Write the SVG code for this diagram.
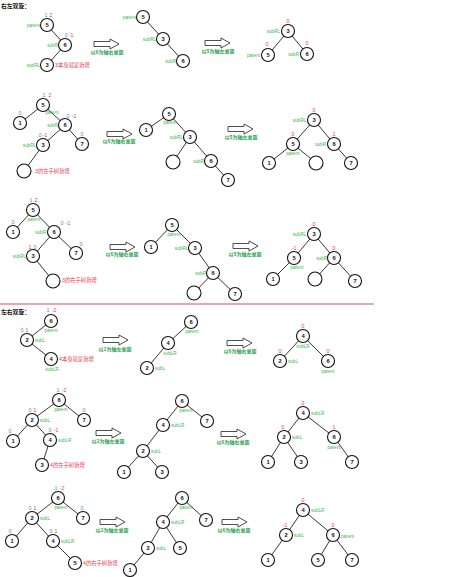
<svg xmlns="http://www.w3.org/2000/svg" xmlns:xlink="http://www.w3.org/1999/xlink" width="474" height="577" viewBox="0 0 474 577">
<defs>
<style>
.bg{fill:#fff}
.n circle{fill:#fff;stroke:#111;stroke-width:1.1}
.n text{font-family:"Liberation Sans",Arial,sans-serif;font-size:5.8px;font-weight:bold;fill:#111;text-anchor:middle}
.e line{stroke:#222;stroke-width:0.9}
.g{font-family:"Liberation Sans",Arial,sans-serif;font-size:4.6px;fill:#3ab54a}
.r{font-family:"Liberation Sans","Noto Sans CJK SC",sans-serif;font-size:5.3px;fill:#e8374a}
.b{font-family:"Liberation Sans",Arial,sans-serif;font-size:5.3px;fill:#3b8fd8;text-anchor:middle}
.rd{font-family:"Liberation Sans",Arial,sans-serif;font-size:5.3px;fill:#e8374a;text-anchor:middle}
.cap{font-family:"Noto Sans CJK SC",sans-serif;font-size:5px;fill:#22a04a;font-weight:bold;text-anchor:middle}
.h{font-family:"Noto Sans CJK SC",sans-serif;font-size:5.8px;font-weight:bold;fill:#111}
.m{text-anchor:middle}
.en{text-anchor:end}
</style>
<path id="arr" d="M0,-2.5 H16 V-5 L25,0 L16,5 V2.5 H0 Z" fill="#fff" stroke="#222" stroke-width="0.8"/>
</defs>
<rect class="bg" width="474" height="577"/>

<text class="h" x="1" y="8">右左双旋：</text>
<line x1="0" y1="304" x2="374" y2="304" stroke="#d9534f" stroke-width="1.2"/>
<text class="h" x="1" y="314">左右双旋：</text>

<g id="connectors" class="e">
<line x1="47" y1="25" x2="65" y2="45"/><line x1="65" y1="45" x2="47" y2="65"/>
<line x1="143" y1="17" x2="163" y2="39"/><line x1="163" y1="39" x2="183" y2="61"/>
<line x1="288" y1="31" x2="268" y2="55"/><line x1="288" y1="31" x2="307" y2="54"/>
<line x1="43" y1="105" x2="20" y2="123"/><line x1="43" y1="105" x2="65" y2="125"/><line x1="65" y1="125" x2="43" y2="145"/><line x1="65" y1="125" x2="82" y2="144"/><line x1="43" y1="145" x2="24" y2="171"/>
<line x1="169" y1="114" x2="146" y2="130"/><line x1="169" y1="114" x2="190" y2="137"/><line x1="190" y1="137" x2="173" y2="162"/><line x1="190" y1="137" x2="211" y2="161"/><line x1="211" y1="161" x2="228" y2="180"/>
<line x1="314" y1="120" x2="293" y2="144"/><line x1="314" y1="120" x2="334" y2="144"/><line x1="293" y1="144" x2="269" y2="163"/><line x1="293" y1="144" x2="316" y2="163"/><line x1="334" y1="144" x2="351" y2="163"/>
<line x1="33" y1="210" x2="13" y2="232"/><line x1="33" y1="210" x2="54" y2="232"/><line x1="54" y1="232" x2="33" y2="256"/><line x1="54" y1="232" x2="76" y2="253"/><line x1="33" y1="256" x2="53" y2="281"/>
<line x1="172" y1="225" x2="151" y2="247"/><line x1="172" y1="225" x2="195" y2="248"/><line x1="195" y1="248" x2="213" y2="273"/><line x1="213" y1="273" x2="194" y2="293"/><line x1="213" y1="273" x2="235" y2="294"/>
<line x1="314" y1="234" x2="294" y2="258"/><line x1="314" y1="234" x2="334" y2="258"/><line x1="294" y1="258" x2="273" y2="279"/><line x1="334" y1="258" x2="315" y2="279"/><line x1="334" y1="258" x2="355" y2="281"/>
<line x1="51" y1="321" x2="27" y2="340"/><line x1="27" y1="340" x2="51" y2="359"/>
<line x1="191" y1="322" x2="168" y2="343"/><line x1="168" y1="343" x2="147" y2="368"/>
<line x1="303" y1="336" x2="280" y2="361"/><line x1="303" y1="336" x2="328" y2="361"/>
<line x1="59" y1="400" x2="32" y2="420"/><line x1="59" y1="400" x2="84" y2="420"/><line x1="32" y1="420" x2="13" y2="441"/><line x1="32" y1="420" x2="50" y2="440"/><line x1="50" y1="440" x2="42" y2="465"/>
<line x1="182" y1="401" x2="163" y2="425"/><line x1="182" y1="401" x2="207" y2="421"/><line x1="163" y1="425" x2="143" y2="451"/><line x1="143" y1="451" x2="124" y2="472"/><line x1="143" y1="451" x2="162" y2="472"/>
<line x1="303" y1="413" x2="284" y2="437"/><line x1="303" y1="413" x2="334" y2="437"/><line x1="284" y1="437" x2="268" y2="462"/><line x1="284" y1="437" x2="301" y2="462"/><line x1="334" y1="437" x2="352" y2="462"/>
<line x1="58" y1="498" x2="32" y2="518"/><line x1="58" y1="498" x2="83" y2="518"/><line x1="32" y1="518" x2="12" y2="541"/><line x1="32" y1="518" x2="53" y2="541"/><line x1="53" y1="541" x2="75" y2="563"/>
<line x1="182" y1="498" x2="163" y2="522"/><line x1="182" y1="498" x2="206" y2="520"/><line x1="163" y1="522" x2="148" y2="548"/><line x1="163" y1="522" x2="180" y2="548"/><line x1="148" y1="548" x2="130" y2="570"/>
<line x1="303" y1="510" x2="286" y2="535"/><line x1="303" y1="510" x2="333" y2="535"/><line x1="286" y1="535" x2="268" y2="560"/><line x1="333" y1="535" x2="318" y2="560"/><line x1="333" y1="535" x2="352" y2="560"/>
</g>

<g id="arrows">
<use href="#arr" x="94" y="44"/><text class="cap" x="107" y="54">以6为轴右单旋</text>
<use href="#arr" x="205" y="43"/><text class="cap" x="218" y="53">以5为轴左单旋</text>
<use href="#arr" x="107" y="134"/><text class="cap" x="119" y="143">以6为轴右单旋</text>
<use href="#arr" x="228" y="129"/><text class="cap" x="241" y="139">以5为轴左单旋</text>
<use href="#arr" x="110" y="247"/><text class="cap" x="122" y="256">以6为轴右单旋</text>
<use href="#arr" x="233" y="246"/><text class="cap" x="245" y="256">以5为轴左单旋</text>
<use href="#arr" x="103" y="340"/><text class="cap" x="115" y="351">以2为轴左单旋</text>
<use href="#arr" x="227" y="343"/><text class="cap" x="240" y="353">以6为轴右单旋</text>
<use href="#arr" x="96" y="433"/><text class="cap" x="108" y="443">以2为轴左单旋</text>
<use href="#arr" x="221" y="434"/><text class="cap" x="233" y="444">以6为轴右单旋</text>
<use href="#arr" x="100" y="522"/><text class="cap" x="112" y="532">以2为轴左单旋</text>
<use href="#arr" x="222" y="522"/><text class="cap" x="234" y="532">以6为轴右单旋</text>
</g>

<g id="r1a5" class="n"><circle cx="47" cy="25" r="6.5"/><text x="47" y="27">5</text></g>
<g id="r1a6" class="n"><circle cx="65" cy="45" r="6.5"/><text x="65" y="47">6</text></g>
<g id="r1a3" class="n"><circle cx="47" cy="65" r="6.5"/><text x="47" y="67">3</text></g>
<text class="g en" x="40" y="27">parent</text>
<text class="g en" x="58" y="47">subR</text>
<text class="g en" x="40" y="67">subRL</text>
<text class="b" x="46" y="17">1</text><text class="rd" x="51" y="17">2</text>
<text class="b" x="66" y="37">0</text><text class="rd" x="71" y="37">-1</text>
<text class="r" x="55" y="67">3本身就是新增</text>

<g id="r1b5" class="n"><circle cx="143" cy="17" r="6.5"/><text x="143" y="19">5</text></g>
<g id="r1b3" class="n"><circle cx="163" cy="39" r="6.5"/><text x="163" y="41">3</text></g>
<g id="r1b6" class="n"><circle cx="183" cy="61" r="6.5"/><text x="183" y="63">6</text></g>
<text class="g en" x="136" y="19">parent</text>
<text class="g en" x="156" y="41">subRL</text>
<text class="g en" x="176" y="63">subR</text>

<g id="r1c3" class="n"><circle cx="288" cy="31" r="6.5"/><text x="288" y="33">3</text></g>
<g id="r1c5" class="n"><circle cx="268" cy="55" r="6.5"/><text x="268" y="57">5</text></g>
<g id="r1c6" class="n"><circle cx="307" cy="54" r="6.5"/><text x="307" y="56">6</text></g>
<text class="rd" x="288" y="23">0</text><text class="rd" x="267" y="46">0</text><text class="rd" x="307" y="45">0</text>
<text class="g en" x="280" y="33">subRL</text>
<text class="g en" x="260" y="57">parent</text>
<text class="g en" x="299" y="56">subR</text>

<g id="r2a5" class="n"><circle cx="43" cy="105" r="6.5"/><text x="43" y="107">5</text></g>
<g id="r2a1" class="n"><circle cx="20" cy="123" r="6.5"/><text x="20" y="125">1</text></g>
<g id="r2a6" class="n"><circle cx="65" cy="125" r="6.5"/><text x="65" y="127">6</text></g>
<g id="r2a7" class="n"><circle cx="82" cy="144" r="6.5"/><text x="82" y="146">7</text></g>
<g id="r2a3" class="n"><circle cx="43" cy="145" r="6.5"/><text x="43" y="147">3</text></g>
<g id="r2anew" class="n"><circle cx="24" cy="171" r="7"/></g>
<text class="b" x="44" y="97">1</text><text class="rd" x="50" y="97">2</text>
<text class="b" x="20" y="115">0</text>
<text class="b" x="68" y="118">0</text><text class="rd" x="74" y="118">-1</text>
<text class="b" x="82" y="136">0</text>
<text class="b" x="40" y="137">0</text><text class="rd" x="45" y="137">-1</text>
<text class="g m" x="52" y="114">parent</text>
<text class="g en" x="58" y="127">subR</text>
<text class="g en" x="36" y="147">subRL</text>
<text class="r" x="35" y="173">3的左子树新增</text>

<g id="r2b5" class="n"><circle cx="169" cy="114" r="6.5"/><text x="169" y="116">5</text></g>
<g id="r2b1" class="n"><circle cx="146" cy="130" r="6.5"/><text x="146" y="132">1</text></g>
<g id="r2b3" class="n"><circle cx="190" cy="137" r="6.5"/><text x="190" y="139">3</text></g>
<g id="r2bnew" class="n"><circle cx="173" cy="162" r="7"/></g>
<g id="r2b6" class="n"><circle cx="211" cy="161" r="6.5"/><text x="211" y="163">6</text></g>
<g id="r2b7" class="n"><circle cx="228" cy="180" r="6.5"/><text x="228" y="182">7</text></g>
<text class="g m" x="170" y="124">parent</text>
<text class="g en" x="183" y="139">subRL</text>
<text class="g en" x="204" y="163">subR</text>

<g id="r2c3" class="n"><circle cx="314" cy="120" r="6.5"/><text x="314" y="122">3</text></g>
<g id="r2c5" class="n"><circle cx="293" cy="144" r="6.5"/><text x="293" y="146">5</text></g>
<g id="r2c6" class="n"><circle cx="334" cy="144" r="6.5"/><text x="334" y="146">6</text></g>
<g id="r2c1" class="n"><circle cx="269" cy="163" r="6.5"/><text x="269" y="165">1</text></g>
<g id="r2cnew" class="n"><circle cx="316" cy="163" r="7"/></g>
<g id="r2c7" class="n"><circle cx="351" cy="163" r="6.5"/><text x="351" y="165">7</text></g>
<text class="rd" x="314" y="112">0</text><text class="rd" x="293" y="136">0</text><text class="rd" x="334" y="136">1</text>
<text class="g en" x="306" y="122">subRL</text>
<text class="g m" x="293" y="155">parent</text>
<text class="g en" x="326" y="146">subR</text>

<g id="r3a5" class="n"><circle cx="33" cy="210" r="6.5"/><text x="33" y="212">5</text></g>
<g id="r3a1" class="n"><circle cx="13" cy="232" r="6.5"/><text x="13" y="234">1</text></g>
<g id="r3a6" class="n"><circle cx="54" cy="232" r="6.5"/><text x="54" y="234">6</text></g>
<g id="r3a7" class="n"><circle cx="76" cy="253" r="6.5"/><text x="76" y="255">7</text></g>
<g id="r3a3" class="n"><circle cx="33" cy="256" r="6.5"/><text x="33" y="258">3</text></g>
<g id="r3anew" class="n"><circle cx="53" cy="281" r="7"/></g>
<text class="b" x="31" y="202">1</text><text class="rd" x="36" y="202">2</text>
<text class="b" x="13" y="224">0</text>
<text class="b" x="62" y="225">0</text><text class="rd" x="68" y="225">-1</text>
<text class="b" x="81" y="246">0</text>
<text class="rd" x="30" y="249">1</text><text class="b" x="35" y="249">0</text>
<text class="g m" x="34" y="221">parent</text>
<text class="g en" x="46" y="234">subR</text>
<text class="g en" x="26" y="258">subRL</text>
<text class="r" x="62" y="282">3的右子树新增</text>

<g id="r3b5" class="n"><circle cx="172" cy="225" r="6.5"/><text x="172" y="227">5</text></g>
<g id="r3b1" class="n"><circle cx="151" cy="247" r="6.5"/><text x="151" y="249">1</text></g>
<g id="r3b3" class="n"><circle cx="195" cy="248" r="6.5"/><text x="195" y="250">3</text></g>
<g id="r3b6" class="n"><circle cx="213" cy="273" r="6.5"/><text x="213" y="275">6</text></g>
<g id="r3bnew" class="n"><circle cx="194" cy="293" r="7"/></g>
<g id="r3b7" class="n"><circle cx="235" cy="294" r="6.5"/><text x="235" y="296">7</text></g>
<text class="g m" x="174" y="236">parent</text>
<text class="g en" x="188" y="250">subRL</text>
<text class="g en" x="206" y="275">subR</text>

<g id="r3c3" class="n"><circle cx="314" cy="234" r="6.5"/><text x="314" y="236">3</text></g>
<g id="r3c5" class="n"><circle cx="294" cy="258" r="6.5"/><text x="294" y="260">5</text></g>
<g id="r3c6" class="n"><circle cx="334" cy="258" r="6.5"/><text x="334" y="260">6</text></g>
<g id="r3c1" class="n"><circle cx="273" cy="279" r="6.5"/><text x="273" y="281">1</text></g>
<g id="r3cnew" class="n"><circle cx="315" cy="279" r="7"/></g>
<g id="r3c7" class="n"><circle cx="355" cy="281" r="6.5"/><text x="355" y="283">7</text></g>
<text class="rd" x="314" y="226">0</text><text class="rd" x="294" y="250">-1</text><text class="rd" x="334" y="250">0</text>
<text class="g en" x="306" y="236">subRL</text>
<text class="g m" x="297" y="269">parent</text>
<text class="g en" x="327" y="260">subR</text>

<g id="r4a6" class="n"><circle cx="51" cy="321" r="6.5"/><text x="51" y="323">6</text></g>
<g id="r4a2" class="n"><circle cx="27" cy="340" r="6.5"/><text x="27" y="342">2</text></g>
<g id="r4a4" class="n"><circle cx="51" cy="359" r="6.5"/><text x="51" y="361">4</text></g>
<text class="b" x="48" y="312">1</text><text class="rd" x="54" y="312">-2</text>
<text class="b" x="22" y="332">0</text><text class="rd" x="27" y="332">1</text>
<text class="g m" x="51" y="332">parent</text>
<text class="g" x="35" y="342">subL</text>
<text class="g m" x="52" y="371">subLR</text>
<text class="r" x="59" y="361">4本身就是新增</text>

<g id="r4b6" class="n"><circle cx="191" cy="322" r="6.5"/><text x="191" y="324">6</text></g>
<g id="r4b4" class="n"><circle cx="168" cy="343" r="6.5"/><text x="168" y="345">4</text></g>
<g id="r4b2" class="n"><circle cx="147" cy="368" r="6.5"/><text x="147" y="370">2</text></g>
<text class="g m" x="192" y="333">parent</text>
<text class="g m" x="170" y="355">subLR</text>
<text class="g" x="155" y="370">subL</text>

<g id="r4c4" class="n"><circle cx="303" cy="336" r="6.5"/><text x="303" y="338">4</text></g>
<g id="r4c2" class="n"><circle cx="280" cy="361" r="6.5"/><text x="280" y="363">2</text></g>
<g id="r4c6" class="n"><circle cx="328" cy="361" r="6.5"/><text x="328" y="363">6</text></g>
<text class="rd" x="303" y="328">0</text><text class="rd" x="280" y="353">0</text><text class="rd" x="328" y="353">0</text>
<text class="g m" x="303" y="348">subLR</text>
<text class="g" x="288" y="363">subL</text>
<text class="g m" x="328" y="373">parent</text>

<g id="r5a6" class="n"><circle cx="59" cy="400" r="6.5"/><text x="59" y="402">6</text></g>
<g id="r5a2" class="n"><circle cx="32" cy="420" r="6.5"/><text x="32" y="422">2</text></g>
<g id="r5a7" class="n"><circle cx="84" cy="420" r="6.5"/><text x="84" y="422">7</text></g>
<g id="r5a1" class="n"><circle cx="13" cy="441" r="6.5"/><text x="13" y="443">1</text></g>
<g id="r5a4" class="n"><circle cx="50" cy="440" r="6.5"/><text x="50" y="442">4</text></g>
<g id="r5a3" class="n"><circle cx="42" cy="465" r="6.5"/><text x="42" y="467">3</text></g>
<text class="b" x="58" y="392">1</text><text class="rd" x="64" y="392">-2</text>
<text class="b" x="30" y="412">0</text><text class="rd" x="35" y="412">1</text>
<text class="b" x="84" y="412">0</text>
<text class="b" x="10" y="433">0</text>
<text class="b" x="50" y="432">0</text><text class="rd" x="56" y="432">-1</text>
<text class="g m" x="61" y="411">parent</text>
<text class="g" x="40" y="422">subL</text>
<text class="g" x="58" y="442">subLR</text>
<text class="r" x="50" y="467">4的左子树新增</text>

<g id="r5b6" class="n"><circle cx="182" cy="401" r="6.5"/><text x="182" y="403">6</text></g>
<g id="r5b7" class="n"><circle cx="207" cy="421" r="6.5"/><text x="207" y="423">7</text></g>
<g id="r5b4" class="n"><circle cx="163" cy="425" r="6.5"/><text x="163" y="427">4</text></g>
<g id="r5b2" class="n"><circle cx="143" cy="451" r="6.5"/><text x="143" y="453">2</text></g>
<g id="r5b1" class="n"><circle cx="124" cy="472" r="6.5"/><text x="124" y="474">1</text></g>
<g id="r5b3" class="n"><circle cx="162" cy="472" r="6.5"/><text x="162" y="474">3</text></g>
<text class="g m" x="186" y="412">parent</text>
<text class="g" x="171" y="427">subLR</text>
<text class="g" x="151" y="453">subL</text>

<g id="r5c4" class="n"><circle cx="303" cy="413" r="6.5"/><text x="303" y="415">4</text></g>
<g id="r5c2" class="n"><circle cx="284" cy="437" r="6.5"/><text x="284" y="439">2</text></g>
<g id="r5c6" class="n"><circle cx="334" cy="437" r="6.5"/><text x="334" y="439">6</text></g>
<g id="r5c1" class="n"><circle cx="268" cy="462" r="6.5"/><text x="268" y="464">1</text></g>
<g id="r5c3" class="n"><circle cx="301" cy="462" r="6.5"/><text x="301" y="464">3</text></g>
<g id="r5c7" class="n"><circle cx="352" cy="462" r="6.5"/><text x="352" y="464">7</text></g>
<text class="rd" x="303" y="405">0</text><text class="rd" x="283" y="429">0</text><text class="rd" x="334" y="429">1</text>
<text class="g" x="311" y="415">subLR</text>
<text class="g" x="292" y="439">subL</text>
<text class="g m" x="334" y="449">parent</text>

<g id="r6a6" class="n"><circle cx="58" cy="498" r="6.5"/><text x="58" y="500">6</text></g>
<g id="r6a2" class="n"><circle cx="32" cy="518" r="6.5"/><text x="32" y="520">2</text></g>
<g id="r6a7" class="n"><circle cx="83" cy="518" r="6.5"/><text x="83" y="520">7</text></g>
<g id="r6a1" class="n"><circle cx="12" cy="541" r="6.5"/><text x="12" y="543">1</text></g>
<g id="r6a4" class="n"><circle cx="53" cy="541" r="6.5"/><text x="53" y="543">4</text></g>
<g id="r6a5" class="n"><circle cx="75" cy="563" r="6.5"/><text x="75" y="565">5</text></g>
<text class="b" x="56" y="490">1</text><text class="rd" x="62" y="490">-2</text>
<text class="b" x="30" y="510">0</text><text class="rd" x="35" y="510">1</text>
<text class="b" x="82" y="510">0</text>
<text class="b" x="10" y="533">0</text>
<text class="b" x="51" y="533">0</text><text class="rd" x="56" y="533">1</text>
<text class="g m" x="61" y="509">parent</text>
<text class="g" x="40" y="520">subL</text>
<text class="g" x="61" y="543">subLR</text>
<text class="r" x="83" y="565">4的右子树新增</text>

<g id="r6b6" class="n"><circle cx="182" cy="498" r="6.5"/><text x="182" y="500">6</text></g>
<g id="r6b7" class="n"><circle cx="206" cy="520" r="6.5"/><text x="206" y="522">7</text></g>
<g id="r6b4" class="n"><circle cx="163" cy="522" r="6.5"/><text x="163" y="524">4</text></g>
<g id="r6b2" class="n"><circle cx="148" cy="548" r="6.5"/><text x="148" y="550">2</text></g>
<g id="r6b5" class="n"><circle cx="180" cy="548" r="6.5"/><text x="180" y="550">5</text></g>
<g id="r6b1" class="n"><circle cx="130" cy="570" r="6.5"/><text x="130" y="572">1</text></g>
<text class="g m" x="186" y="509">parent</text>
<text class="g" x="171" y="524">subLR</text>
<text class="g" x="156" y="550">subL</text>

<g id="r6c4" class="n"><circle cx="303" cy="510" r="6.5"/><text x="303" y="512">4</text></g>
<g id="r6c2" class="n"><circle cx="286" cy="535" r="6.5"/><text x="286" y="537">2</text></g>
<g id="r6c6" class="n"><circle cx="333" cy="535" r="6.5"/><text x="333" y="537">6</text></g>
<g id="r6c1" class="n"><circle cx="268" cy="560" r="6.5"/><text x="268" y="562">1</text></g>
<g id="r6c5" class="n"><circle cx="318" cy="560" r="6.5"/><text x="318" y="562">5</text></g>
<g id="r6c7" class="n"><circle cx="352" cy="560" r="6.5"/><text x="352" y="562">7</text></g>
<text class="rd" x="303" y="502">0</text><text class="rd" x="285" y="527">-1</text><text class="rd" x="333" y="527">0</text>
<text class="g" x="311" y="512">subLR</text>
<text class="g" x="294" y="537">subL</text>
<text class="g" x="341" y="538">parent</text>
</svg>
